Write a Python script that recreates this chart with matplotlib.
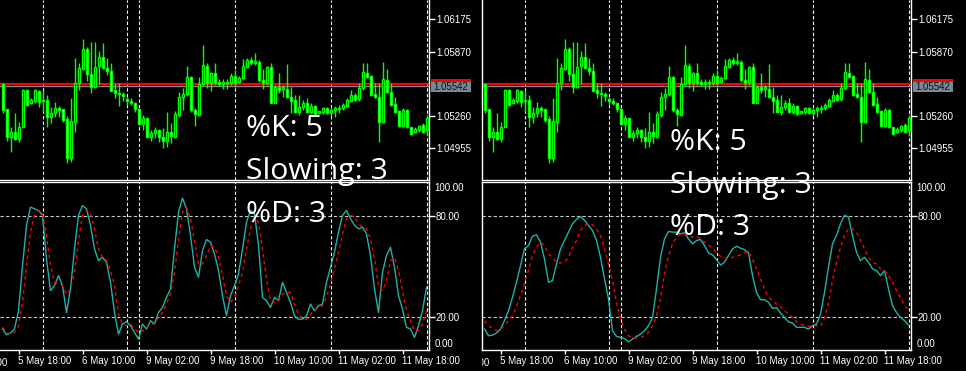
import numpy as np
import matplotlib
matplotlib.use("Agg")
import matplotlib.pyplot as plt
from matplotlib.patches import Rectangle
from matplotlib.transforms import Bbox, TransformedBbox, blended_transform_factory

# ---------------- data ----------------
opens = [1.05563, 1.05324, 1.05065, 1.05109, 1.05040, 1.05160, 1.05507, 1.05387, 1.05402, 1.05497,
         1.05399, 1.05412, 1.05254, 1.05286, 1.05333, 1.05324, 1.05229, 1.04860, 1.05207, 1.05570,
         1.05702, 1.05891, 1.05655, 1.05532, 1.05734, 1.05816, 1.05711, 1.05689, 1.05507, 1.05475,
         1.05472, 1.05418, 1.05402, 1.05380, 1.05324, 1.05185, 1.05238, 1.05065, 1.05097, 1.05128,
         1.05065, 1.05027, 1.05112, 1.05065, 1.05270, 1.05443, 1.05466, 1.05626, 1.05317, 1.05270,
         1.05563, 1.05734, 1.05570, 1.05664, 1.05585, 1.05560, 1.05585, 1.05570, 1.05639, 1.05585,
         1.05617, 1.05727, 1.05790, 1.05765, 1.05775, 1.05601, 1.05576, 1.05721, 1.05387, 1.05532,
         1.05513, 1.05513, 1.05437, 1.05412, 1.05302, 1.05343, 1.05387, 1.05302, 1.05355, 1.05292,
         1.05302, 1.05333, 1.05286, 1.05317, 1.05339, 1.05333, 1.05355, 1.05406, 1.05456, 1.05418,
         1.05522, 1.05670, 1.05639, 1.05466, 1.05443, 1.05207, 1.05601, 1.05491, 1.05374, 1.05308,
         1.05166, 1.05317, 1.05153, 1.05112, 1.05128, 1.05175, 1.05128]
highs = [1.05576, 1.05324, 1.05153, 1.05286, 1.05204, 1.05513, 1.05513, 1.05428, 1.05513, 1.05507,
         1.05507, 1.05459, 1.05343, 1.05396, 1.05355, 1.05330, 1.05261, 1.05428, 1.05806, 1.05759,
         1.05986, 1.05910, 1.05960, 1.05960, 1.05875, 1.05948, 1.05806, 1.05759, 1.05576, 1.05570,
         1.05491, 1.05443, 1.05428, 1.05396, 1.05333, 1.05270, 1.05245, 1.05128, 1.05160, 1.05134,
         1.05144, 1.05302, 1.05197, 1.05311, 1.05491, 1.05522, 1.05734, 1.05639, 1.05333, 1.05633,
         1.05932, 1.05759, 1.05680, 1.05765, 1.05607, 1.05607, 1.05607, 1.05670, 1.05696, 1.05639,
         1.05797, 1.05806, 1.05816, 1.05853, 1.05790, 1.05702, 1.05734, 1.05759, 1.05554, 1.05664,
         1.05554, 1.05752, 1.05538, 1.05459, 1.05459, 1.05412, 1.05428, 1.05387, 1.05365, 1.05311,
         1.05349, 1.05343, 1.05333, 1.05355, 1.05365, 1.05380, 1.05428, 1.05507, 1.05475, 1.05570,
         1.05759, 1.05759, 1.05648, 1.05570, 1.05570, 1.05768, 1.05705, 1.05576, 1.05443, 1.05317,
         1.05333, 1.05324, 1.05160, 1.05160, 1.05179, 1.05191, 1.05270]
lows = [1.05292, 1.05027, 1.04923, 1.05034, 1.05018, 1.05153, 1.05355, 1.05374, 1.05387, 1.05349,
        1.05302, 1.05153, 1.05191, 1.05248, 1.05248, 1.05207, 1.04819, 1.04829, 1.05112, 1.05507,
        1.05696, 1.05595, 1.05475, 1.05522, 1.05563, 1.05702, 1.05648, 1.05497, 1.05428, 1.05355,
        1.05406, 1.05365, 1.05365, 1.05302, 1.05175, 1.05128, 1.05059, 1.05027, 1.05049, 1.05018,
        1.04955, 1.04970, 1.05008, 1.05049, 1.05254, 1.05317, 1.05450, 1.05302, 1.05166, 1.05261,
        1.05554, 1.05522, 1.05500, 1.05554, 1.05544, 1.05513, 1.05513, 1.05554, 1.05538, 1.05570,
        1.05607, 1.05711, 1.05743, 1.05743, 1.05585, 1.05513, 1.05554, 1.05380, 1.05380, 1.05475,
        1.05443, 1.05428, 1.05286, 1.05286, 1.05270, 1.05317, 1.05286, 1.05279, 1.05270, 1.05279,
        1.05279, 1.05279, 1.05261, 1.05254, 1.05292, 1.05317, 1.05343, 1.05396, 1.05406, 1.05406,
        1.05507, 1.05617, 1.05450, 1.05428, 1.05018, 1.05191, 1.05475, 1.05355, 1.05286, 1.05160,
        1.05160, 1.05144, 1.05081, 1.05103, 1.05112, 1.05097, 1.05071]
closes = [1.05317, 1.05065, 1.05109, 1.05040, 1.05160, 1.05507, 1.05365, 1.05412, 1.05507, 1.05396,
          1.05412, 1.05254, 1.05286, 1.05333, 1.05317, 1.05223, 1.04860, 1.05216, 1.05570, 1.05711,
          1.05891, 1.05655, 1.05532, 1.05727, 1.05816, 1.05711, 1.05689, 1.05500, 1.05475, 1.05472,
          1.05453, 1.05406, 1.05380, 1.05324, 1.05185, 1.05238, 1.05065, 1.05097, 1.05128, 1.05059,
          1.05027, 1.05112, 1.05071, 1.05279, 1.05443, 1.05469, 1.05626, 1.05317, 1.05279, 1.05563,
          1.05743, 1.05570, 1.05664, 1.05576, 1.05560, 1.05585, 1.05570, 1.05639, 1.05576, 1.05617,
          1.05734, 1.05790, 1.05759, 1.05784, 1.05601, 1.05570, 1.05721, 1.05387, 1.05532, 1.05507,
          1.05532, 1.05437, 1.05406, 1.05302, 1.05343, 1.05387, 1.05302, 1.05355, 1.05279, 1.05308,
          1.05333, 1.05286, 1.05317, 1.05339, 1.05324, 1.05365, 1.05412, 1.05456, 1.05412, 1.05522,
          1.05680, 1.05626, 1.05459, 1.05443, 1.05207, 1.05607, 1.05484, 1.05365, 1.05302, 1.05166,
          1.05317, 1.05153, 1.05090, 1.05138, 1.05166, 1.05112, 1.05238]

k_left = [12.7, 9.3, 10.3, 12.7, 23.6, 50.5, 74.5, 85.4, 84.4, 83.4, 80.5, 54.5, 35.6, 38.6, 44.6,
          38.6, 22.6, 36.6, 60.5, 80.5, 86.4, 84.4, 74.5, 60.5, 53.5, 55.5, 52.5, 40.6, 22.6, 9.7,
          15.7, 17.1, 14.7, 10.7, 6.7, 15.7, 12.7, 17.7, 15.7, 22.6, 25.6, 31.6, 36.6, 60.5, 82.5,
          90.8, 84.4, 68.5, 49.6, 43.6, 59.5, 66.1, 64.5, 57.5, 47.6, 32.6, 20.6, 32.6, 38.6, 45.6,
          60.5, 76.5, 83.4, 81.5, 62.5, 31.6, 29.6, 25.6, 31.6, 29.6, 40.6, 34.6, 28.6, 20.6, 18.6,
          18.6, 20.6, 27.6, 23.6, 26.6, 27.6, 40.6, 49.6, 58.5, 70.5, 80.5, 83.4, 78.5, 74.5, 72.5,
          73.5, 69.5, 56.5, 36.6, 22.6, 46.6, 56.5, 61.5, 49.6, 32.6, 24.6, 13.7, 12.7, 7.7, 14.7,
          23.6, 37.6]
d_left = [13.7, 10.7, 9.7, 10.7, 14.7, 28.6, 50.5, 70.5, 80.5, 83.4, 81.5, 68.5, 50.5, 40.6, 39.6,
          38.6, 33.6, 36.6, 46.6, 65.5, 80.5, 83.4, 81.5, 72.5, 60.5, 55.5, 53.5, 47.6, 38.6, 21.6,
          15.7, 14.7, 15.7, 12.7, 10.7, 11.7, 12.7, 15.7, 15.7, 19.6, 22.6, 27.6, 33.6, 46.6, 65.5,
          82.5, 85.4, 78.5, 65.5, 51.5, 51.5, 56.5, 62.5, 61.5, 55.5, 44.6, 32.6, 28.6, 31.6, 38.6,
          46.6, 60.5, 72.5, 78.5, 76.5, 60.5, 42.6, 29.6, 28.6, 29.6, 33.6, 34.6, 34.6, 27.6, 21.6,
          18.6, 18.6, 21.6, 23.6, 25.6, 26.6, 31.6, 39.6, 48.6, 58.5, 69.5, 78.5, 80.5, 79.5, 75.5,
          73.5, 72.5, 66.5, 54.5, 38.6, 35.6, 41.6, 53.5, 55.5, 47.6, 35.6, 23.6, 17.7, 11.7, 11.7,
          15.7, 23.6]
k_right = [12.7, 8.7, 9.1, 10.3, 12.7, 17.7, 23.6, 31.6, 40.6, 50.5, 60.5, 62.5, 68.1, 68.9, 64.5,
           54.5, 40.6, 41.6, 51.5, 60.5, 65.5, 70.5, 75.5, 78.1, 79.9, 77.5, 74.5, 71.5, 65.5, 55.5,
           42.6, 30.6, 11.7, 8.3, 7.7, 7.1, 5.1, 6.7, 8.3, 9.7, 11.7, 14.7, 19.6, 36.6, 55.5,
           66.5, 70.9, 70.5, 70.5, 69.5, 70.1, 66.5, 63.5, 65.5, 66.1, 62.5, 58.1, 56.9, 54.1, 50.9,
           52.5, 56.5, 60.5, 62.1, 60.9, 60.1, 58.1, 44.6, 34.6, 30.2, 30.2, 28.6, 25.0, 25.6, 22.2,
           19.6, 17.0, 16.3, 13.7, 13.7, 13.7, 12.7, 14.7, 15.7, 21.6, 34.6, 49.6, 63.5, 68.5, 75.5,
           80.5, 79.5, 68.5, 58.5, 53.5, 55.5, 52.5, 48.6, 47.6, 44.6, 47.6, 36.6, 26.6, 22.6, 19.6,
           17.7, 15.1]
d_right = [17.7, 14.7, 13.1, 11.7, 12.7, 14.7, 17.7, 20.6, 26.6, 32.6, 40.6, 47.6, 56.5, 61.5, 64.5,
           62.5, 57.5, 55.5, 52.5, 52.1, 52.5, 55.5, 61.5, 65.5, 71.5, 74.5, 75.5, 74.9, 72.5, 68.5,
           60.5, 51.5, 41.6, 28.6, 18.6, 12.7, 8.7, 7.7, 7.3, 7.7, 8.7, 10.7, 14.7, 20.6, 31.6,
           45.6, 56.5, 63.5, 67.5, 69.5, 69.5, 68.5, 67.5, 67.9, 66.5, 64.5, 62.9, 60.9, 58.1, 56.1,
           55.5, 54.5, 55.5, 56.1, 56.9, 58.5, 58.9, 54.5, 48.6, 42.6, 36.6, 31.6, 29.6, 27.6, 26.2,
           23.6, 21.6, 19.6, 17.0, 15.7, 14.7, 14.3, 14.3, 14.7, 14.3, 19.6, 28.6, 41.6, 52.5, 61.5,
           68.5, 72.5, 72.5, 70.5, 65.5, 60.5, 55.5, 52.5, 51.5, 48.6, 47.6, 44.6, 40.6, 35.6, 31.6,
           26.6, 24.6]

price_ticks = [1.06175, 1.05870, 1.05260, 1.04955]
bid_price = 1.05542
ask_price = 1.05561
time_tick_bars = [4, 20, 36, 52, 68, 84, 100]
time_tick_labels = ["5 May 18:00", "6 May 10:00", "9 May 02:00", "9 May 18:00",
                    "10 May 10:00", "11 May 02:00", "11 May 18:00"]
hidden_label_bar = -12
hidden_label = "5 May 02:00"
grid_bars = [10, 31, 34, 58, 82, 106]
stoch_levels = [20, 80]
params_text = ["%K: 5", "Slowing: 3", "%D: 3"]

# ---------------- drawing ----------------
W, H = 966, 371
fig = plt.figure(figsize=(W / 100, H / 100), dpi=100, facecolor="black")
LIME = "#00ff00"
AXFONT = ["Liberation Sans", "DejaVu Sans"]
FS = 7.0

x = np.arange(len(opens))
o = np.array(opens); h = np.array(highs); l = np.array(lows); c = np.array(closes)

panels = [(0, k_left, d_left, 246, 136.5), (482, k_right, d_right, 670, 150)]


def frect(px0, py0, px1, py1, color, z):
    fig.add_artist(Rectangle((px0 / W, 1 - py1 / H), (px1 - px0) / W, (py1 - py0) / H,
                             transform=fig.transFigure, facecolor=color, edgecolor="none",
                             zorder=z))


for x0, kv, dv, tx, ty in panels:
    axp = fig.add_axes([x0 / W, 1 - 180 / H, 429 / W, 180 / H])
    axs = fig.add_axes([x0 / W, 1 - 350 / H, 429 / W, 168 / H])
    for ax in (axp, axs):
        ax.set_facecolor("black")
        ax.set_xlim(-0.625, 106.625)
        for sp in ax.spines.values():
            sp.set_color("white")
            sp.set_linewidth(1.0)
        ax.spines["top"].set_visible(ax is axs)
        ax.spines["left"].set_visible(x0 > 0)
        for gb in grid_bars:
            ax.axvline(gb, color="white", lw=0.8, ls=(0, (3, 2)), zorder=1)
        ax.yaxis.tick_right()
        ax.tick_params(axis="y", colors="white", length=4, width=1, pad=1,
                       labelsize=FS, direction="out")

    # price panel
    axp.set_ylim(1.04655, 1.06358)
    axp.axhline(bid_price, color="#778899", lw=1, zorder=2)
    axp.axhline(ask_price, color="red", lw=1.6, zorder=2)
    axp.vlines(x, l, h, color=LIME, lw=1, zorder=3)
    bottoms = np.minimum(o, c)
    heights = np.abs(c - o)
    fills = ["white" if cc < oo else "black" for oo, cc in zip(o, c)]
    axp.bar(x, heights, bottom=bottoms, width=0.5, color=fills, edgecolor=LIME,
            linewidth=1, zorder=4)
    axp.set_xticks([])
    axp.set_yticks(price_ticks)
    axp.set_yticklabels([f"{p:.5f}" for p in price_ticks], fontfamily=AXFONT)

    # bid/ask labels on the price scale (ask box partly hidden under bid box)
    bx0 = x0 + 431
    frect(bx0, 79, bx0 + 40, 89, "red", 5)
    frect(bx0, 81.7, bx0 + 40, 91.7, "#778899", 6)
    fig.text((bx0 + 20) / W, 1 - 86.9 / H, f"{bid_price:.5f}", fontsize=FS, color="#101010",
             fontfamily=AXFONT, ha="center", va="center", zorder=7)

    # stochastic panel
    axs.set_ylim(0.2, 100.4)
    for lv in stoch_levels:
        axs.axhline(lv, color="#c8c8c8", lw=0.8, ls=(0, (3, 2)), zorder=1)
    axs.plot(x, kv, color="#20b2aa", lw=1.0, zorder=3)
    axs.plot(x, dv, color="red", lw=1.0, ls=(0, (2.5, 2.5)), zorder=4)
    axs.set_yticks(stoch_levels)
    axs.set_yticklabels([f"{v:.2f}" for v in stoch_levels], fontfamily=AXFONT)
    trs = blended_transform_factory(axs.transAxes, axs.transData)
    axs.text(1.012, 96.95, "100.00", transform=trs, fontsize=FS, va="center", ha="left",
             color="white", fontfamily=AXFONT, clip_on=False)
    axs.text(1.012, 4.07, "0.00", transform=trs, fontsize=FS, va="center", ha="left",
             color="white", fontfamily=AXFONT, clip_on=False)
    axs.set_xticks(time_tick_bars)
    axs.set_xticklabels(time_tick_labels, fontfamily=AXFONT)
    axs.tick_params(axis="x", colors="white", length=3, width=1, pad=1.5, labelsize=FS)
    for lbl in axs.get_xticklabels():
        lbl.set_ha("left")
    trx = blended_transform_factory(axs.transData, axs.transAxes)
    t = axs.text(hidden_label_bar, -0.05, hidden_label, transform=trx, fontsize=FS,
                 va="top", ha="left", color="white", fontfamily=AXFONT)
    t.set_clip_on(True)
    t.set_clip_box(TransformedBbox(Bbox.from_extents(x0 / W, 0, 1, 1), fig.transFigure))

    # large parameter text
    for j, s in enumerate(params_text):
        fig.text(tx / W, 1 - (ty + 42.5 * j) / H, s, fontsize=21.8, color="white",
                 fontfamily=["Open Sans", "DejaVu Sans"], va="baseline", ha="left", zorder=20)

fig.savefig("out.png", dpi=100, facecolor="black")
